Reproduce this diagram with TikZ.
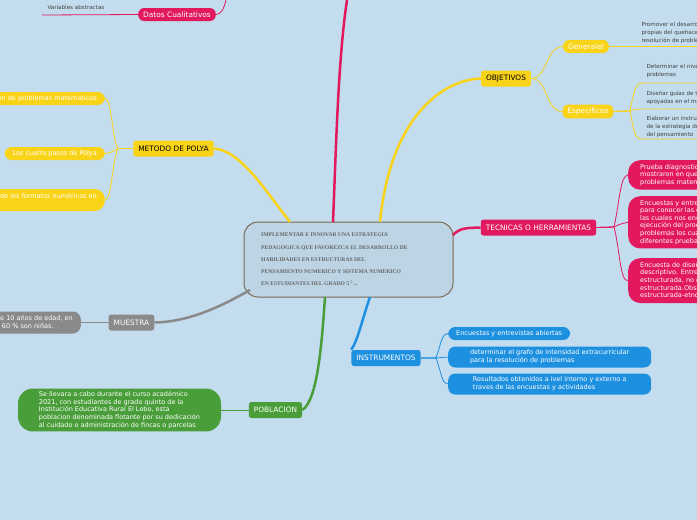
\documentclass[tikz,border=0pt]{standalone}
\usepackage{fontspec}
\setsansfont{DejaVu Sans}
\setmainfont{Liberation Serif}
\begin{document}
\begin{tikzpicture}[x=1pt,y=-1pt,
  every node/.style={font=\sffamily\fontsize{6.5}{7.6}\selectfont},
  lbl/.style={rounded corners=2.5pt,minimum height=16pt,inner xsep=5pt,text=white,font=\sffamily\fontsize{7.4}{8}\selectfont},
  pill/.style={rounded corners=7pt,text=white,inner xsep=8pt,inner ysep=3pt,align=left},
  big/.style={rounded corners=12pt,text=white,inner xsep=12pt,inner ysep=4pt,align=left,anchor=north west},
  plain/.style={text=black!75,align=left,anchor=north west,font=\sffamily\fontsize{5.6}{8}\selectfont},
]
\definecolor{bg}{HTML}{C3DDEF}
\definecolor{pk}{HTML}{E2195E}
\definecolor{yl}{HTML}{F9D318}
\definecolor{gr}{HTML}{4A9E3A}
\definecolor{bl}{HTML}{1E90E0}
\definecolor{gy}{HTML}{8A8A8A}
\definecolor{brd}{HTML}{7A6A55}
\fill[bg] (0,0) rectangle (697,520);
\clip (0,0) rectangle (697,520);
\useasboundingbox (0,0) rectangle (697,520);

% central
\node[draw=brd,line width=1pt,fill=bg!90!gray,rounded corners=14pt,minimum width=209pt,minimum height=75pt] (c) at (348.5,259.5) {};
\node[anchor=north west,inner sep=0pt,text=gray!80!black,font=\rmfamily\bfseries\fontsize{5.6}{12.2}\selectfont,align=left] (ct) at (261,233)
{IMPLEMENTAR E INNOVAR UNA ESTRATEGIA\\PEDAGOGICA QUE FAVOREZCA EL DESARROLLO DE\\HABILIDADES EN ESTRUCTURAS DEL\\PENSAMIENTO NUMERICO Y SISTEMA NUMERICO\\EN ESTUDIANTES DEL GRADO 5$^{\circ}$...};

% top pink
\coordinate (ptop) at (347,0);
\draw[pk,line width=2.5pt] (333,222) .. controls (336,150) and (338,60) .. (ptop);
\node[lbl,fill=pk,rounded corners=6pt,minimum height=13pt] (dc) at (177,14.5) {Datos Cualitativos};
\coordinate (dct) at (226,0);
\draw[pk,line width=0.8pt] (dc.east) .. controls (222,14) and (224,8) .. (dct);
\coordinate (va) at (42,15);
\draw[pk,line width=0.8pt] (dc.west) -- (va);
\node[plain,anchor=south west] (vat) at (44,13) {Variables abstractas};

% OBJETIVOS
\node[lbl,fill=yl,text=black] (obj) at (506,78.5) {OBJETIVOS};
\draw[yl,line width=2.5pt] (380,222) .. controls (390,120) and (440,80) .. (obj.west);
\node[lbl,fill=yl,rounded corners=6pt,minimum height=13pt] (gen) at (586,46.5) {Generalel};
\node[lbl,fill=yl,rounded corners=6pt,minimum height=13pt] (esp) at (588,111.5) {Especificos};
\draw[yl,line width=0.8pt] (obj.east) .. controls (548,78) and (545,47) .. (gen.west);
\draw[yl,line width=0.8pt] (obj.east) .. controls (548,78) and (545,111) .. (esp.west);
\node[plain] (g1) at (638,19) {Promover el desarrollo de habilidades\\propias del quehacer matemático\\resolución de problemas};
\coordinate (g1e) at (697,46.5);
\draw[yl,line width=0.8pt] (gen.east) -- (g1e);
\node[plain] (e1) at (643,61) {Determinar el nivel de\\problemas};
\node[plain] (e2) at (643,87) {Diseñar guías de trabajo\\apoyadas en el material};
\node[plain] (e3) at (643,113) {Elaborar un instrumento\\de la estrategia de\\del pensamiento};
\coordinate (e1e) at (697,83); \coordinate (e2e) at (697,109); \coordinate (e3e) at (697,139);
\draw[yl,line width=0.8pt] (esp.east) -- (630,111) .. controls (635,85) and (636,83) .. (645,83) -- (e1e);
\draw[yl,line width=0.8pt] (esp.east) -- (630,111) .. controls (635,109) .. (645,109) -- (e2e);
\draw[yl,line width=0.8pt] (esp.east) -- (630,111) .. controls (635,139) and (636,139) .. (645,139) -- (e3e);

% METODO DE POLYA
\node[lbl,fill=yl,text=black] (pol) at (173.5,148.5) {METODO DE POLYA};
\draw[yl,line width=2.5pt] (pol.east) .. controls (240,150) and (265,190) .. (290,222);
\node[pill,fill=yl,anchor=east,minimum height=13pt] (p1) at (105,98.5) {La resolución de problemas matematicos};
\node[pill,fill=yl,anchor=east,minimum height=13pt] (p2) at (105,153.5) {Los cuatro pasos de Pólya};
\node[pill,fill=yl,anchor=east,minimum height=22pt,rounded corners=10pt] (p3) at (105,200) {El uso de los formatos numéricos en\\\phantom{x}};
\draw[yl,line width=0.8pt] (pol.west) -- (118,148.5) .. controls (112,140) and (112,99) .. (p1.east);
\draw[yl,line width=0.8pt] (pol.west) -- (118,148.5) .. controls (112,152) .. (p2.east);
\draw[yl,line width=0.8pt] (pol.west) -- (118,148.5) .. controls (112,160) and (112,200) .. (p3.east);

% TECNICAS
\node[lbl,fill=pk] (tec) at (538.5,227.5) {TECNICAS O HERRAMIENTAS};
\draw[pk,line width=2.5pt] (453,235) .. controls (460,228) and (465,228) .. (tec.west);
\node[big,fill=pk] (t1) at (628,160) {Prueba diagnostica cuyos resultados\\mostraron en que nivel estaban en\\problemas matematicos};
\node[big,fill=pk] (t2) at (628,196) {Encuestas y entrevistas abiertas\\para conocer las dificultades con\\las cuales nos encontramos en la\\ejecución del proceso de resolver\\problemas los cuales se ven en las\\diferentes pruebas};
\node[big,fill=pk] (t3) at (628,258) {Encuesta de diseño de tipo\\descriptivo. Entrevista semi\\estructurada, no estructurada y\\estructurada.Observación\\estructurada-etnografica};
\draw[pk,line width=0.8pt] (tec.east) -- (614,227) .. controls (620,200) and (620,176) .. (t1.west);
\draw[pk,line width=0.8pt] (tec.east) -- (614,227) .. controls (620,224) .. (t2.west);
\draw[pk,line width=0.8pt] (tec.east) -- (614,227) .. controls (620,250) and (620,282) .. (t3.west);

% MUESTRA
\node[lbl,fill=gy] (mue) at (131.5,322.5) {MUESTRA};
\draw[gy,line width=2.5pt] (250,290) .. controls (215,310) and (185,322) .. (mue.east);
\node[pill,fill=gy,anchor=east,rounded corners=8pt,minimum height=22pt] (m1) at (81,322.5) {Estudiantes de 10 años de edad, en\\su mayoría el 60 \% son niñas.};
\draw[gy,line width=0.8pt] (mue.west) -- (m1.east);

% POBLACION
\node[lbl,fill=gr] (pob) at (275.5,410) {POBLACION};
\draw[gr,line width=2.5pt] (325,297) .. controls (322,340) and (318,400) .. (pob.east);
\node[big,fill=gr,rounded corners=15pt,anchor=center,inner xsep=14pt,inner ysep=3pt,minimum width=203pt] (po1) at (119.5,410) {Se llevara a cabo durante el curso académico\\2021, con estudiantes de grado quinto de la\\Institución Educativa Rural El Lobo, esta\\poblacion denominada flotante por su dedicación\\al cuidado o administración de fincas o parcelas};
\draw[gr,line width=0.8pt] (po1.east) -- (pob.west);

% INSTRUMENTOS
\node[lbl,fill=bl] (ins) at (386,358) {INSTRUMENTOS};
\draw[bl,line width=2.5pt] (370,297) .. controls (362,320) and (358,340) .. (ins.north west);
\node[pill,fill=bl,anchor=west,minimum height=13pt] (i1) at (448,333.5) {Encuestas y entrevistas abiertas};
\node[pill,fill=bl,anchor=west,minimum height=21pt,inner xsep=12pt,minimum width=203pt] (i2) at (448,357) {determinar el grafo  de intensidad extracurricular\\para la resolución de problemas};
\node[pill,fill=bl,anchor=west,minimum height=21pt,inner xsep=12pt,minimum width=203pt] (i3) at (448,384) {Resultados obtenidos a ivel interno y externo a\\traves de las encuestas y actividades};
\draw[bl,line width=0.8pt] (ins.east) -- (436,358) .. controls (442,340) and (442,334) .. (i1.west);
\draw[bl,line width=0.8pt] (ins.east) -- (436,358) .. controls (442,357) .. (i2.west);
\draw[bl,line width=0.8pt] (ins.east) -- (436,358) .. controls (442,375) and (442,384) .. (i3.west);
\end{tikzpicture}
\end{document}
